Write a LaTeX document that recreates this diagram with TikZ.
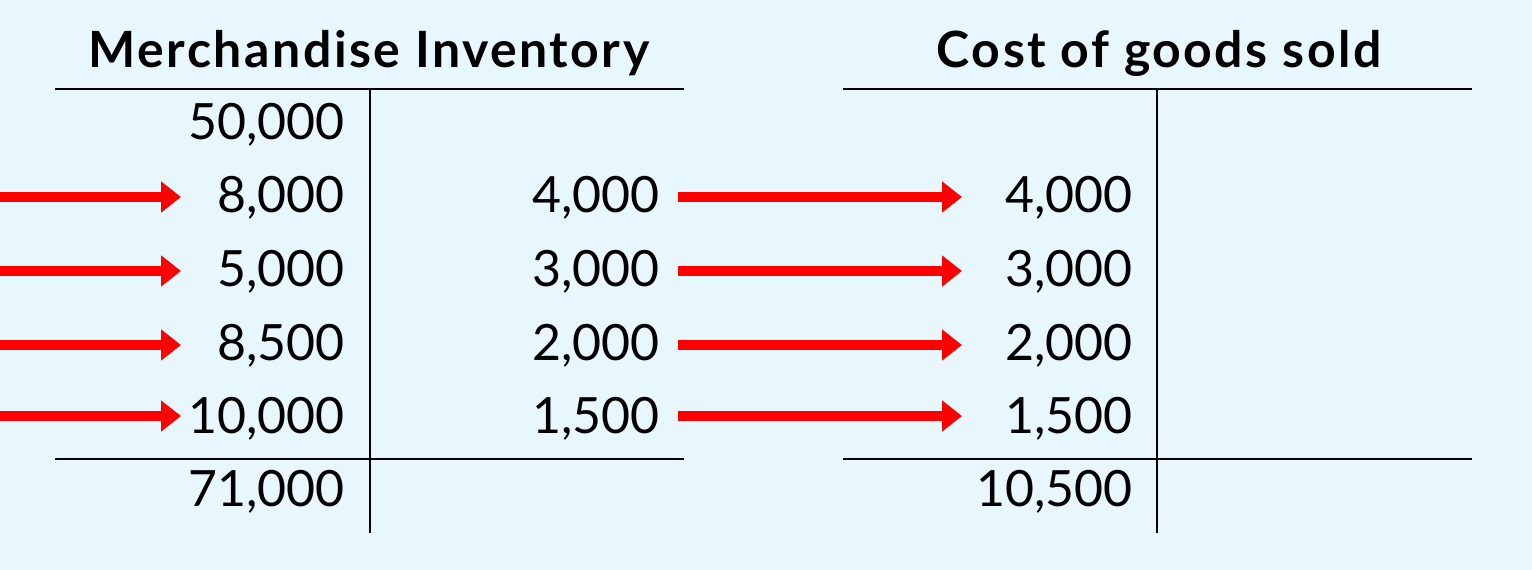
\documentclass[tikz,border=0pt]{standalone}
\usepackage{fontspec}
\setmainfont{Lato}
\newfontfamily\ttlfont[LetterSpace=5]{Lato}
\usetikzlibrary{arrows.meta}
\definecolor{bg}{RGB}{232,246,253}
\definecolor{arr}{RGB}{255,0,0}
\tikzset{
  num/.style={anchor=east,inner sep=0pt,font=\fontsize{50}{50}\selectfont},
  ttl/.style={anchor=base,inner sep=0pt,font=\ttlfont\fontsize{50}{50}\selectfont\bfseries},
  rule/.style={line width=2pt,black},
  flow/.style={line width=10pt,arr,-{Triangle[length=20pt,width=30pt]},shorten >=0pt}
}
\begin{document}
\begin{tikzpicture}[x=1pt,y=-1pt]
\fill[bg] (0,0) rectangle (1532,570);
\useasboundingbox (0,0) rectangle (1532,570);
% titles
\node[ttl] (t1) at (369,67) {Merchandise Inventory};
\node[ttl] (t2) at (1159,67) {Cost of goods sold};
% T accounts
\draw[rule] (55,89) -- (684,89);
\draw[rule] (370,89) -- (370,533);
\draw[rule] (55,459) -- (684,459);
\draw[rule] (843,89) -- (1472,89);
\draw[rule] (1157,89) -- (1157,533);
\draw[rule] (843,459) -- (1472,459);
% left debit column
\node[num] (d0) at (345,125) {50,000};
\node[num] (d1) at (345,198) {8,000};
\node[num] (d2) at (345,272) {5,000};
\node[num] (d3) at (345,346) {8,500};
\node[num] (d4) at (345,419) {10,000};
\node[num] (dt) at (345,492) {71,000};
% left credit column
\node[num] (c1) at (660,198) {4,000};
\node[num] (c2) at (660,272) {3,000};
\node[num] (c3) at (660,346) {2,000};
\node[num] (c4) at (660,419) {1,500};
% right debit column
\node[num] (g1) at (1133,198) {4,000};
\node[num] (g2) at (1133,272) {3,000};
\node[num] (g3) at (1133,346) {2,000};
\node[num] (g4) at (1133,419) {1,500};
\node[num] (gt) at (1133,492) {10,500};
% arrow end points
\foreach \i/\y in {1/197,2/271,3/345,4/416}{
  \coordinate (ls\i) at (0,\y);
  \coordinate (le\i) at (181,\y);
  \coordinate (rs\i) at (678,\y);
  \coordinate (re\i) at (962,\y);
}
\foreach \i in {1,2,3,4}{
  \draw[flow] (ls\i) -- (le\i);
  \draw[flow] (rs\i) -- (re\i);
}
\end{tikzpicture}
\end{document}
